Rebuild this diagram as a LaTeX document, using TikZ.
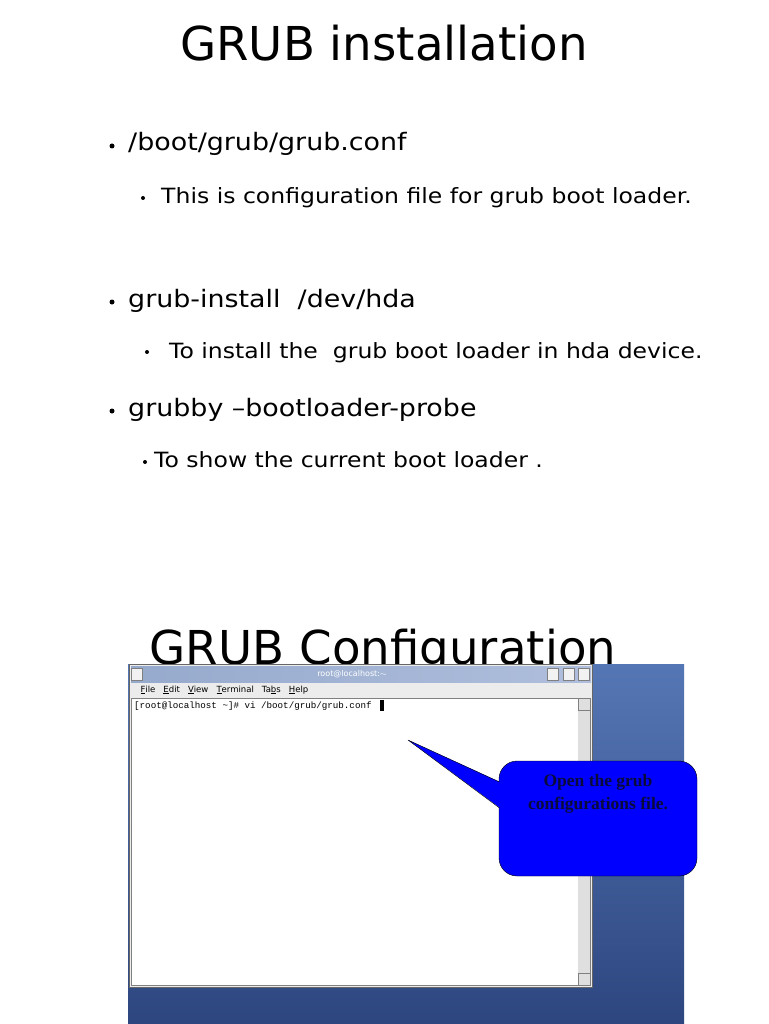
\documentclass[tikz,border=0pt]{standalone}
\usepackage{fontspec}
\setmainfont{DejaVu Sans}
\newfontfamily\tms{Liberation Serif}
\newfontfamily\mono{Liberation Mono}
\definecolor{calloutblue}{RGB}{0,0,255}
\definecolor{calltext}{RGB}{10,10,60}
\definecolor{desktop1}{RGB}{85,118,180}
\definecolor{desktop2}{RGB}{45,70,128}
\definecolor{tbar1}{RGB}{150,170,205}
\definecolor{tbar2}{RGB}{175,190,220}
\begin{document}
\begin{tikzpicture}[x=1pt,y=-1pt,
  title/.style={font=\fontsize{46.7}{52}\selectfont, anchor=base},
  lvl1/.style={font=\fontsize{24}{26}\selectfont, anchor=base west, inner sep=0, xscale=1.12},
  lvl2/.style={font=\fontsize{21}{24}\selectfont, anchor=base west, inner sep=0, xscale=1.12},
  dot/.style={circle, fill=black, inner sep=0, minimum size=5pt}]
\useasboundingbox (0,0) rectangle (768,1024);
\fill[white] (0,0) rectangle (768,1024);
\node[title] (t1) at (384,61) {GRUB installation};
\node[dot] (b1) at (112,146) {};
\node[lvl1] (l1) at (128,151) {/boot/grub/grub.conf};
\node[dot,minimum size=4pt] (b2) at (143,198) {};
\node[lvl2] (l2) at (161,204) {This is configuration file for grub boot loader.};
\node[dot] (b3) at (112,302) {};
\node[lvl1] (l3) at (128,307) {grub-install\ \ /dev/hda};
\node[dot,minimum size=4pt] (b4) at (147,352) {};
\node[lvl2] (l4) at (169,358) {To install the\ \ grub boot loader in hda device.};
\node[dot] (b5) at (112,411) {};
\node[lvl1] (l5) at (128,416) {grubby –bootloader-probe};
\node[dot,minimum size=4pt] (b6) at (145,462) {};
\node[lvl2] (l6) at (154,467) {To show the current boot loader .};
\node[title] (t2) at (383,664) {GRUB Configuration};
% desktop
\shade[top color=desktop1, bottom color=desktop2] (128,664) rectangle (684,1024);
% terminal
\fill[black!60] (129,664) rectangle (593,988);
\fill[gray!15] (130,665) rectangle (592,987);
\shade[left color=tbar1, right color=tbar2] (131,666) rectangle (591,682);
\node[font=\fontsize{8}{9}\selectfont, text=white, inner sep=1pt] (tt) at (352,674) {root@localhost:$\sim$};
\foreach \x in {136,552,568,583}{\draw[fill=gray!10,draw=gray] (\x-5,668) rectangle (\x+6,680);}
\node[font=\fontsize{8.5}{9}\selectfont, anchor=west] (mb) at (137,690) {\underline{F}ile\ \ \ \underline{E}dit\ \ \ \underline{V}iew\ \ \ \underline{T}erminal\ \ \ Ta\underline{b}s\ \ \ \underline{H}elp};
\fill[white] (131,698) rectangle (578,985);
\draw[gray] (131,698) rectangle (590,985);
\fill[gray!25] (578,698) rectangle (590,985);
\draw[gray] (578,698) rectangle (590,710) (578,973) rectangle (590,985);
\node[font=\mono\fontsize{9.2}{10}\selectfont, anchor=west, inner sep=0] (cmd) at (134,706) {[root@localhost \textasciitilde]\# vi /boot/grub/grub.conf};
\fill[black] (380,700) rectangle (384,711);
% callout
\coordinate (tip) at (408,740);
\node[draw=black, fill=calloutblue, rounded corners=18pt, minimum width=198pt, minimum height=115pt] (co) at (598,818.5) {};
\fill[calloutblue] (tip) -- (500,782) -- (500,808) -- cycle;
\draw (tip) -- (499.5,782) (tip) -- (499.5,808);
\node[font=\tms\bfseries\fontsize{17.5}{23}\selectfont, text=calltext, align=center, anchor=north] (ct) at (598,771) {Open the grub\\configurations file.};
\end{tikzpicture}
\end{document}
